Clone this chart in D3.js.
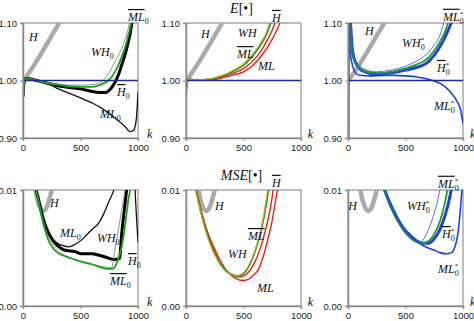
<!DOCTYPE html>
<html>
<head>
<meta charset="utf-8">
<script src="https://cdn.jsdelivr.net/npm/d3@7"></script>
<style>
  body { margin: 0; background: #fff; }
  svg { display: block; }
</style>
</head>
<body>
<div id="chart"></div>
<script>
// tick values
var kTicks = [0, 500, 1000];
var eTicks = [0.90, 1.00, 1.10];
var mseTicks = [0.00, 0.01];

// reference line at 1
var refOne = [[0, 1.0], [1000, 1.0]];

// H (same in every panel of a row)
var eH = [[0, 1.000], [25, 1.006], [50, 1.013], [100, 1.028], [150, 1.044], [200, 1.061], [250, 1.078], [300, 1.095], [325, 1.104]];
var mseH = [[100, 0.0105], [120, 0.0094], [140, 0.0087], [160, 0.0083], [180, 0.0082], [200, 0.0084], [220, 0.0089], [240, 0.0096], [262, 0.0105]];

// E[.] left panel
var e1ML0 = [[0, 0.972], [8, 0.995], [25, 1.003], [60, 1.003], [100, 1.001], [150, 0.998], [220, 0.994], [300, 0.986], [400, 0.978], [510, 0.969], [600, 0.961], [684, 0.952], [780, 0.938], [887, 0.920], [930, 0.911], [960, 0.913], [980, 0.925], [992, 0.950], [1000, 0.980]];
var e1Hb0 = [[0, 0.972], [8, 0.995], [25, 1.003], [60, 1.003], [100, 1.001], [200, 0.996], [300, 0.991], [400, 0.988], [510, 0.985], [600, 0.981], [660, 0.979], [710, 0.979], [750, 0.983], [800, 0.997], [830, 1.010], [858, 1.027], [890, 1.047], [916, 1.067], [935, 1.085], [948, 1.102]];
var e1WH0 = [[0, 0.972], [8, 0.995], [25, 1.003], [60, 1.003], [100, 1.001], [200, 0.997], [300, 0.994], [400, 0.992], [510, 0.992], [600, 0.993], [655, 0.995], [713, 1.004], [760, 1.017], [800, 1.033], [858, 1.056], [900, 1.080], [916, 1.091], [928, 1.102]];
var e1MLb0 = [[0, 0.972], [8, 0.995], [25, 1.003], [60, 1.003], [100, 1.001], [200, 0.996], [300, 0.993], [400, 0.990], [510, 0.989], [600, 0.989], [655, 0.991], [700, 0.995], [742, 1.000], [800, 1.015], [858, 1.041], [900, 1.066], [916, 1.079], [932, 1.092], [942, 1.102]];

// E[.] middle panel
var e2WH = [[0, 0.972], [8, 0.995], [25, 1.002], [100, 1.001], [200, 1.003], [300, 1.008], [400, 1.017], [500, 1.030], [600, 1.052], [655, 1.068], [700, 1.085], [728, 1.102]];
var e2MLb = [[0, 0.972], [8, 0.995], [25, 1.002], [100, 1.001], [200, 1.002], [300, 1.007], [365, 1.011], [400, 1.015], [510, 1.028], [600, 1.048], [655, 1.064], [700, 1.080], [740, 1.102]];
var e2Hb = [[0, 0.972], [8, 0.995], [25, 1.002], [100, 1.001], [200, 1.002], [300, 1.006], [400, 1.012], [510, 1.022], [600, 1.038], [655, 1.052], [700, 1.068], [750, 1.088], [776, 1.102]];
var e2ML = [[0, 0.972], [8, 0.995], [25, 1.002], [100, 1.001], [220, 1.001], [300, 1.004], [400, 1.009], [510, 1.016], [600, 1.030], [655, 1.043], [700, 1.055], [750, 1.072], [800, 1.092], [820, 1.102]];

// E[.] right panel
var e3WH0s = [[0, 1.20], [12, 1.12], [20, 1.09], [30, 1.06], [50, 1.040], [100, 1.025], [150, 1.019], [200, 1.016], [250, 1.015], [300, 1.016], [400, 1.019], [500, 1.025], [600, 1.034], [655, 1.041], [700, 1.049], [750, 1.062], [800, 1.079], [835, 1.102]];
var e3MLb0s = [[0, 1.20], [12, 1.12], [22, 1.09], [32, 1.06], [50, 1.038], [100, 1.022], [150, 1.016], [200, 1.014], [250, 1.013], [300, 1.013], [400, 1.016], [500, 1.021], [600, 1.028], [655, 1.033], [700, 1.040], [750, 1.052], [800, 1.068], [850, 1.088], [872, 1.102]];
var e3Hb0s = [[0, 0.80], [4, 1.20], [15, 1.12], [25, 1.09], [35, 1.06], [50, 1.040], [100, 1.021], [150, 1.015], [200, 1.012], [250, 1.011], [300, 1.012], [400, 1.014], [500, 1.018], [600, 1.023], [655, 1.027], [700, 1.033], [750, 1.044], [800, 1.059], [850, 1.078], [902, 1.102]];
var e3ML0s = [[0, 0.80], [5, 1.12], [15, 1.06], [25, 1.04], [40, 1.025], [60, 1.015], [100, 1.009], [200, 1.008], [300, 1.009], [400, 1.009], [500, 1.008], [600, 1.006], [700, 1.002], [750, 0.999], [800, 0.995], [850, 0.988], [900, 0.978], [950, 0.963], [980, 0.948], [1000, 0.925]];

// MSE[.] left panel
var m1ML0 = [[100, 0.0106], [130, 0.0094], [160, 0.0081], [200, 0.0068], [250, 0.0059], [300, 0.0054], [350, 0.0052], [400, 0.0051], [450, 0.0053], [510, 0.0057], [560, 0.0062], [600, 0.0066], [655, 0.0071], [700, 0.0079], [742, 0.0089], [790, 0.0100], [805, 0.0105], [850, 0.0150], [950, 0.0150], [972, 0.0105], [985, 0.0080], [1000, 0.0055]];
var m1Hb0 = [[100, 0.0106], [130, 0.0094], [160, 0.0081], [200, 0.0068], [250, 0.0058], [300, 0.0052], [365, 0.0048], [450, 0.0047], [510, 0.0045], [600, 0.0045], [655, 0.0044], [720, 0.0042], [800, 0.0040], [840, 0.0041], [858, 0.0062], [880, 0.0082], [901, 0.0100], [908, 0.0106]];
var m1WH0 = [[100, 0.0106], [130, 0.0093], [160, 0.0079], [200, 0.0065], [250, 0.0055], [300, 0.0048], [400, 0.0042], [500, 0.0039], [600, 0.0036], [700, 0.0034], [771, 0.0033], [800, 0.0049], [830, 0.0066], [860, 0.0084], [887, 0.0100], [895, 0.0106]];
var m1MLb0 = [[100, 0.0106], [120, 0.0098], [140, 0.0088], [160, 0.0078], [190, 0.0066], [220, 0.0057], [260, 0.0050], [300, 0.0046], [365, 0.0043], [450, 0.0040], [510, 0.0038], [600, 0.0036], [655, 0.0034], [742, 0.0032], [780, 0.0032], [800, 0.0034], [830, 0.0041], [858, 0.0051], [880, 0.0064], [901, 0.0080], [920, 0.0094], [932, 0.0100], [938, 0.0106]];

// MSE[.] middle panel
var m2WH = [[75, 0.0103], [80, 0.0101], [110, 0.0088], [150, 0.0072], [200, 0.0056], [250, 0.0044], [300, 0.0035], [350, 0.0030], [400, 0.0027], [450, 0.0026], [500, 0.0029], [550, 0.0036], [600, 0.0048], [650, 0.0066], [690, 0.0087], [710, 0.0101]];
var m2MLb = [[78, 0.0103], [85, 0.0100], [110, 0.0089], [150, 0.0073], [200, 0.0057], [250, 0.0045], [300, 0.0036], [350, 0.0030], [400, 0.0027], [452, 0.0026], [500, 0.0028], [550, 0.0035], [600, 0.0047], [655, 0.0066], [700, 0.0089], [720, 0.0102]];
var m2Hb = [[80, 0.0103], [90, 0.0099], [120, 0.0086], [160, 0.0071], [200, 0.0059], [250, 0.0046], [300, 0.0036], [350, 0.0030], [400, 0.0027], [450, 0.0025], [500, 0.0026], [550, 0.0030], [600, 0.0038], [650, 0.0051], [700, 0.0069], [740, 0.0088], [760, 0.0101]];
var m2ML = [[82, 0.0103], [95, 0.0098], [130, 0.0083], [180, 0.0066], [250, 0.0049], [300, 0.0039], [350, 0.0031], [400, 0.0026], [450, 0.0023], [493, 0.0022], [540, 0.0023], [580, 0.0026], [626, 0.0031], [670, 0.0042], [713, 0.0058], [750, 0.0074], [771, 0.0086], [800, 0.0103]];

// MSE[.] right panel
var m3WH0s = [[295, 0.0104], [350, 0.0090], [400, 0.0079], [450, 0.0070], [500, 0.0063], [550, 0.0058], [600, 0.0055], [626, 0.0054], [660, 0.0058], [700, 0.0066], [750, 0.0080], [780, 0.0091], [805, 0.0103]];
var m3MLb0s = [[300, 0.0104], [350, 0.0090], [400, 0.0079], [450, 0.0070], [500, 0.0063], [550, 0.0058], [600, 0.0055], [655, 0.0054], [700, 0.0056], [750, 0.0062], [800, 0.0073], [840, 0.0088], [870, 0.0103]];
var m3Hb0s = [[305, 0.0104], [350, 0.0092], [400, 0.0081], [450, 0.0072], [500, 0.0065], [550, 0.0060], [600, 0.0056], [650, 0.0054], [700, 0.0054], [750, 0.0058], [800, 0.0066], [850, 0.0080], [890, 0.0096], [905, 0.0104]];
var m3ML0s = [[300, 0.0105], [350, 0.0093], [400, 0.0082], [452, 0.0071], [510, 0.0063], [560, 0.0058], [600, 0.0055], [655, 0.0052], [700, 0.0050], [750, 0.0048], [800, 0.0046], [858, 0.0045], [900, 0.0046], [930, 0.0051], [955, 0.0062], [970, 0.0075], [985, 0.0093], [995, 0.0105]];

// line styles
var styles = {
  grayH:   { color: "#aaaaaa", width: 4.5 },
  ref:     { color: "#1c2a8c", width: 1.5 },
  black:   { color: "#111111", width: 1.3 },
  blackB:  { color: "#000000", width: 3 },
  grayT:   { color: "#777777", width: 0.8 },
  green:   { color: "#1fa01f", width: 1.8 },
  red:     { color: "#e3241b", width: 1.4 },
  orange:  { color: "#f0a030", width: 1 },
  blueB:   { color: "#1f3fe8", width: 3 },
  blueT:   { color: "#2a4ae0", width: 0.8 },
  blueM:   { color: "#1f3fe8", width: 1.6 }
};

function init() {
  var w = 474, h = 321;
  var pw = 115;
  var serif = "'Liberation Serif', 'Times New Roman', serif";
  var sans = "'Liberation Sans', Arial, sans-serif";

  var svg = d3.select("#chart").append("svg")
    .attr("width", w)
    .attr("height", h);

  var panels = [
    { left: 23, top: 23, ph: 115, dom: [0.90, 1.10], ticks: eTicks, fmt: ".2f",
      lines: [[eH, "grayH"], [e1Hb0, "blackB"], [e1ML0, "black"], [e1WH0, "grayT"], [e1MLb0, "green"], [refOne, "ref"]],
      labels: [
        { t: "H", k: 52, v: 1.069 },
        { t: "WH", sub: "0", k: 591, v: 1.043 },
        { t: "ML", sub: "0", over: true, k: 913, v: 1.1035 },
        { t: "H", sub: "0", over: true, k: 817, v: 0.973 },
        { t: "ML", sub: "0", k: 670, v: 0.935 },
        { t: "k", k: 1078, v: 0.90 }
      ] },
    { left: 186, top: 23, ph: 115, dom: [0.90, 1.10], ticks: eTicks, fmt: ".2f", title: "E",
      lines: [[eH, "grayH"], [e2ML, "red"], [e2Hb, "red"], [e2MLb, "green"], [e2WH, "orange"], [refOne, "ref"]],
      labels: [
        { t: "H", k: 130, v: 1.074 },
        { t: "WH", k: 452, v: 1.076 },
        { t: "ML", over: true, k: 443, v: 1.039 },
        { t: "ML", k: 626, v: 1.018 },
        { t: "H", over: true, k: 748, v: 1.102 },
        { t: "k", k: 1058, v: 0.90 }
      ] },
    { left: 348, top: 23, ph: 115, dom: [0.90, 1.10], ticks: eTicks, fmt: ".2f",
      lines: [[eH, "grayH"], [e3ML0s, "blueM"], [e3Hb0s, "blueB"], [e3MLb0s, "green"], [e3WH0s, "blueT"], [refOne, "ref"]],
      labels: [
        { t: "H", k: 148, v: 1.079 },
        { t: "WH", sub: "0", star: true, k: 470, v: 1.059 },
        { t: "ML", sub: "0", star: true, over: true, k: 826, v: 1.104 },
        { t: "H", sub: "0", star: true, over: true, k: 774, v: 1.015 },
        { t: "ML", sub: "0", star: true, k: 748, v: 0.949 },
        { t: "k", k: 1061, v: 0.90 }
      ] },
    { left: 23, top: 190, ph: 116, dom: [0.00, 0.01], ticks: mseTicks, fmt: ".2f",
      lines: [[mseH, "grayH"], [m1Hb0, "blackB"], [m1ML0, "black"], [m1WH0, "grayT"], [m1MLb0, "green"]],
      labels: [
        { t: "H", k: 235, v: 0.00853 },
        { t: "ML", sub: "0", k: 322, v: 0.00597 },
        { t: "WH", sub: "0", k: 643, v: 0.00554 },
        { t: "H", sub: "0", over: true, k: 913, v: 0.00353 },
        { t: "ML", sub: "0", over: true, k: 757, v: 0.00181 },
        { t: "k", k: 1078, v: 0.0 }
      ] },
    { left: 186, top: 190, ph: 116, dom: [0.00, 0.01], ticks: mseTicks, fmt: ".2f", title: "MSE",
      lines: [[mseH, "grayH"], [m2ML, "red"], [m2Hb, "red"], [m2MLb, "green"], [m2WH, "orange"]],
      labels: [
        { t: "H", k: 252, v: 0.00828 },
        { t: "H", over: true, k: 748, v: 0.01028 },
        { t: "ML", over: true, k: 539, v: 0.00569 },
        { t: "WH", k: 365, v: 0.00411 },
        { t: "ML", k: 617, v: 0.00123 },
        { t: "k", k: 1058, v: 0.0 }
      ] },
    { left: 348, top: 190, ph: 116, dom: [0.00, 0.01], ticks: mseTicks, fmt: ".2f",
      lines: [[mseH, "grayH"], [m3ML0s, "blueM"], [m3Hb0s, "blueB"], [m3MLb0s, "green"], [m3WH0s, "blueT"]],
      labels: [
        { t: "H", k: 3, v: 0.00828 },
        { t: "WH", sub: "0", star: true, k: 513, v: 0.00828 },
        { t: "ML", sub: "0", star: true, over: true, k: 783, v: 0.0102 },
        { t: "H", sub: "0", star: true, over: true, k: 817, v: 0.00586 },
        { t: "ML", sub: "0", star: true, k: 783, v: 0.00284 },
        { t: "k", k: 1061, v: 0.0 }
      ] }
  ];

  panels.forEach(function(p, i) {
    var xScale = d3.scaleLinear().domain([0, 1000]).range([p.left, p.left + pw]);
    var yScale = d3.scaleLinear().domain(p.dom).range([p.top + p.ph, p.top]);

    var g = svg.append("g");

    svg.append("clipPath").attr("id", "clip" + i)
      .append("rect")
      .attr("x", p.left).attr("y", p.top)
      .attr("width", pw).attr("height", p.ph);

    // frame
    g.append("rect")
      .attr("x", p.left).attr("y", p.top)
      .attr("width", pw).attr("height", p.ph)
      .attr("fill", "none")
      .attr("stroke", "#a8a8a8")
      .attr("stroke-width", 1.5);

    var line = d3.line()
      .x(d => xScale(d[0]))
      .y(d => yScale(d[1]))
      .curve(d3.curveMonotoneX);

    var lg = g.append("g").attr("clip-path", "url(#clip" + i + ")");
    p.lines.forEach(function(l) {
      var s = styles[l[1]];
      lg.append("path")
        .datum(l[0])
        .attr("fill", "none")
        .attr("stroke", s.color)
        .attr("stroke-width", s.width)
        .attr("stroke-linejoin", "round")
        .attr("d", line);
    });

    var xAxis = d3.axisBottom(xScale).tickValues(kTicks).tickFormat(d3.format("d")).tickSize(3).tickPadding(3);
    var yAxis = d3.axisLeft(yScale).tickValues(p.ticks).tickFormat(d3.format(p.fmt)).tickSize(3).tickPadding(3);

    [g.append("g").attr("transform", `translate(0,${p.top + p.ph})`).call(xAxis),
     g.append("g").attr("transform", `translate(${p.left},0)`).call(yAxis)].forEach(function(ax) {
      ax.select(".domain").attr("stroke", "#8a8a8a").attr("stroke-width", 1.5);
      ax.selectAll(".tick line").attr("stroke", "#8a8a8a");
      ax.selectAll("text").attr("font-family", sans).attr("font-size", 9.5).attr("fill", "#222");
    });

    if (p.title) {
      var tt = g.append("text")
        .attr("x", p.left + pw / 2 - 2)
        .attr("y", p.top - 10)
        .attr("text-anchor", "middle")
        .attr("font-family", serif)
        .attr("font-size", 14)
        .attr("fill", "#111");
      tt.append("tspan").attr("font-style", "italic").text(p.title);
      tt.append("tspan").text("[\u2022]");
    }

    p.labels.forEach(function(lab) {
      var t = g.append("text")
        .attr("x", xScale(lab.k))
        .attr("y", yScale(lab.v))
        .attr("font-family", serif)
        .attr("font-size", 12)
        .attr("fill", "#111");
      var m = t.append("tspan").attr("font-style", "italic").text(lab.t);
      if (lab.over) m.attr("text-decoration", "overline");
      if (lab.star) {
        t.append("tspan").attr("font-size", 7).attr("dy", -5).text("*");
      }
      if (lab.sub) {
        t.append("tspan")
          .attr("font-size", 8)
          .attr("dx", lab.star ? -3.5 : 0)
          .attr("dy", lab.star ? 8 : 3)
          .text(lab.sub);
      }
    });
  });
}

window.onload = init;
</script>
</body>
</html>
